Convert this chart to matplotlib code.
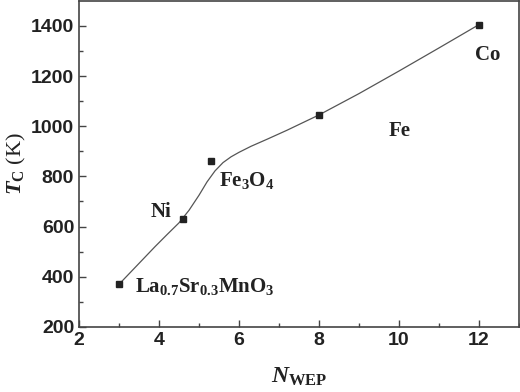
import matplotlib.pyplot as plt

# Curie temperature vs number of weighted electron pairs
materials = ['La$_{\\mathbf{0.7}}$Sr$_{\\mathbf{0.3}}$MnO$_{\\mathbf{3}}$', 'Ni',
             'Fe$_{\\mathbf{3}}$O$_{\\mathbf{4}}$', 'Fe', 'Co']
n_wep = [3.0, 4.6, 5.3, 8.0, 12.0]
tc = [370, 632, 860, 1045, 1405]

# smooth fit curve
fit_x = [3.0, 3.3, 3.6, 3.9, 4.2, 4.5, 4.75, 5.0, 5.2, 5.4, 5.6, 5.8, 6.0, 6.3,
         6.7, 7.2, 8.0, 9.0, 10.0, 11.0, 12.0]
fit_y = [370, 420, 470, 520, 568, 615, 665, 725, 778, 822, 855, 878, 896, 920,
         948, 984, 1045, 1130, 1220, 1312, 1405]

# label positions (data coords)
label_x = [3.4, 3.8, 5.5, 9.75, 11.9]
label_y = [362, 660, 785, 980, 1285]

plt.rcParams['font.family'] = 'Liberation Sans'
plt.rcParams['font.weight'] = 'bold'
plt.rcParams['mathtext.fontset'] = 'custom'
plt.rcParams['mathtext.rm'] = 'Liberation Serif'
plt.rcParams['mathtext.it'] = 'Liberation Serif:italic'
plt.rcParams['mathtext.bf'] = 'Liberation Serif:bold'

fig = plt.figure(figsize=(5.2, 3.92), dpi=100)
ax = fig.add_axes([0.152, 0.166, 0.846, 0.832])

ax.plot(fit_x, fit_y, color='#555555', lw=0.9)
ax.plot(n_wep, tc, 's', color='#222222', ms=5, ls='none')

for name, x, y in zip(materials, label_x, label_y):
    ax.text(x, y, name, fontsize=15, fontweight='bold', family='Liberation Serif',
            color='#222222', va='center')

ax.set_xlim(2, 13)
ax.set_ylim(200, 1500)
ax.set_xticks([2, 4, 6, 8, 10, 12])
ax.set_xticks([3, 5, 7, 9, 11, 13], minor=True)
ax.set_yticks([200, 400, 600, 800, 1000, 1200, 1400])
ax.set_yticks([300, 500, 700, 900, 1100, 1300], minor=True)
ax.tick_params(which='both', direction='in', top=False, right=False, color='#444444',
               labelsize=14, labelcolor='#222222')
ax.tick_params(which='major', length=5, width=1)
ax.tick_params(which='minor', length=3, width=1)
for sp in ax.spines.values():
    sp.set_color('#444444')
    sp.set_linewidth(1.2)

ax.set_xlabel(r'$N_{\mathbf{WEP}}$', fontsize=17, color='#222222', labelpad=12)
ax.set_ylabel(r'$T_{\mathrm{C}}$ (K)', fontsize=16, color='#222222',
              family='Liberation Serif', fontweight='normal', labelpad=2)

plt.savefig('out.png', dpi=100)
